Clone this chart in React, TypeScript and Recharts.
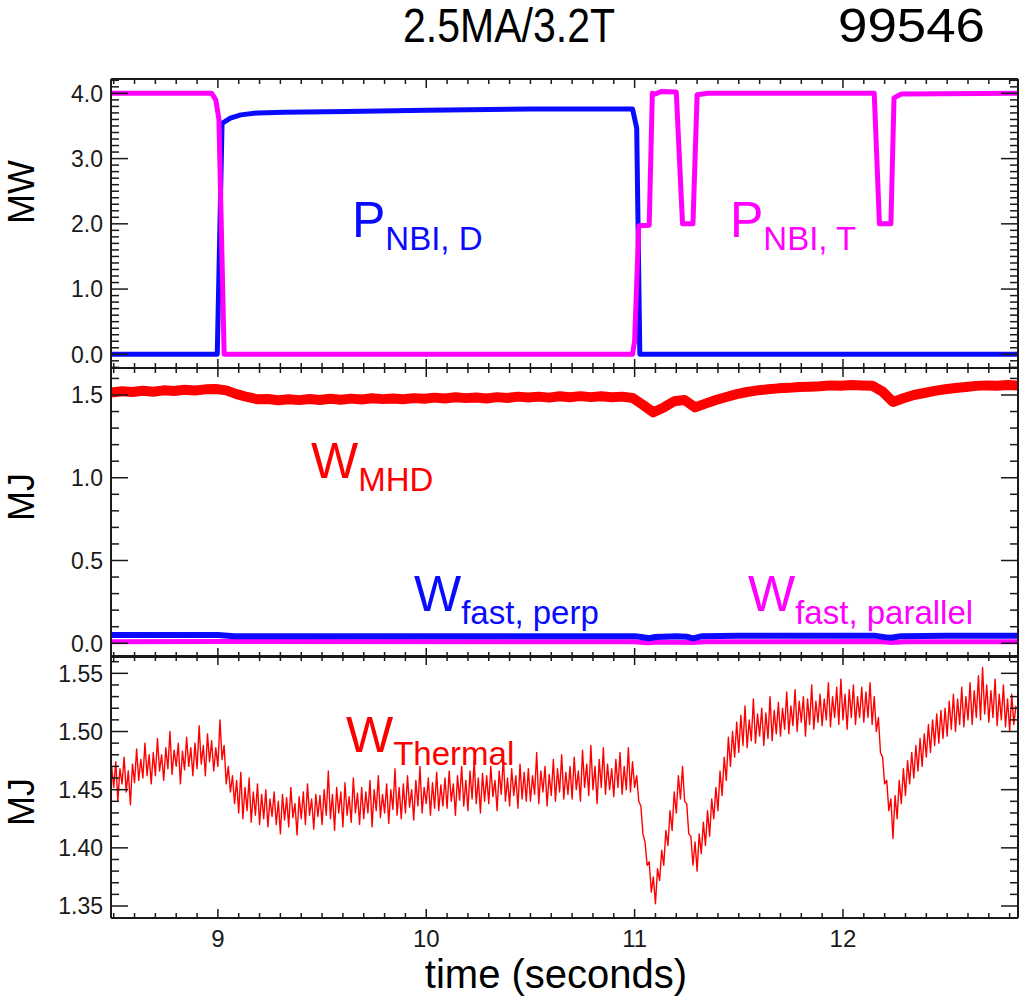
import React from "react";
import { LineChart, Line, XAxis, YAxis } from "recharts";

// shot 99546 — NBI power and stored energy traces
const W = 1025;
const PLOT_LEFT = 111;
const PLOT_RIGHT = 1018;
const FONT = "'Liberation Sans', Arial, Helvetica, sans-serif";
const BLUE = "#0a0aff";
const MAGENTA = "#ff00ff";
const RED = "#ff0000";
const INK = "#1a1a1a";

const T_MIN = 8.487;
const T_MAX = 12.84;
const timeMajor = [9, 10, 11, 12];

// NBI deuterium beam power (MW)
const pdT = [8.49, 8.997, 9.02, 9.06, 9.11, 9.19, 9.32, 9.62, 10.0, 10.5, 10.99, 11.01, 11.025, 12.84];
const pdV = [0, 0, 3.54, 3.62, 3.67, 3.7, 3.71, 3.72, 3.74, 3.76, 3.76, 3.47, 0, 0];

// NBI tritium beam power (MW)
const ptT = [8.49, 8.97, 8.99, 9.005, 9.03, 10.99, 11.0, 11.02, 11.07, 11.085, 11.1, 11.13, 11.2, 11.23, 11.28, 11.3, 11.35, 12.15, 12.175, 12.23, 12.245, 12.28, 12.84];
const ptV = [4.0, 4.0, 3.9, 3.6, 0, 0, 0.2, 1.97, 1.98, 4.0, 3.99, 4.03, 4.02, 2.0, 2.0, 3.98, 4.0, 4.0, 2.0, 2.0, 3.93, 3.99, 4.0];

// W_MHD (MJ), sampled every 50 ms from 8.49 s
const MHD_T0 = 8.49;
const MHD_DT = 0.05;
const wMhd = [
  1.515, 1.522, 1.518, 1.526, 1.52, 1.528, 1.524, 1.532, 1.527, 1.534,
  1.536, 1.528, 1.505, 1.488, 1.474, 1.476, 1.468, 1.474, 1.469, 1.476,
  1.47, 1.477, 1.471, 1.478, 1.473, 1.48, 1.475, 1.479, 1.474, 1.481,
  1.477, 1.484, 1.479, 1.486, 1.481, 1.485, 1.479, 1.487, 1.482, 1.49,
  1.485, 1.49, 1.484, 1.492, 1.486, 1.493, 1.487, 1.492, 1.486, 1.49,
  1.482, 1.44, 1.395, 1.425, 1.462, 1.47, 1.425, 1.448, 1.47, 1.488,
  1.505, 1.518, 1.528, 1.534, 1.54, 1.543, 1.548, 1.55, 1.553, 1.558,
  1.556, 1.56, 1.558, 1.556, 1.52, 1.458, 1.48, 1.5, 1.512, 1.525,
  1.535, 1.542, 1.548, 1.555, 1.558, 1.556, 1.56, 1.558,
];

// fast-ion stored energy (MJ)
const perpT = [8.49, 9.0, 9.08, 10.0, 11.0, 11.04, 11.07, 11.1, 11.2, 11.25, 11.28, 11.32, 11.5, 12.0, 12.15, 12.2, 12.23, 12.28, 12.5, 12.84];
const perpV = [0.05, 0.05, 0.043, 0.042, 0.043, 0.036, 0.03, 0.038, 0.042, 0.04, 0.03, 0.042, 0.045, 0.046, 0.046, 0.037, 0.033, 0.043, 0.045, 0.045];
const parT = [8.49, 9.0, 11.0, 11.06, 11.12, 11.28, 11.34, 12.18, 12.23, 12.3, 12.84];
const parV = [0.009, 0.01, 0.009, 0.003, 0.007, 0.005, 0.009, 0.01, 0.005, 0.009, 0.009];

// W_thermal (MJ), sampled every 10 ms from 8.49 s (one row = 0.2 s)
const TH_T0 = 8.49;
const TH_DT = 0.01;
const wThermal = [
  1.470, 1.452, 1.474, 1.440, 1.468, 1.455, 1.478, 1.448, 1.466, 1.437, 1.472, 1.456, 1.485, 1.458, 1.476, 1.460, 1.490, 1.462, 1.480, 1.455,
  1.482, 1.462, 1.494, 1.466, 1.480, 1.458, 1.486, 1.468, 1.500, 1.463, 1.484, 1.470, 1.490, 1.455, 1.483, 1.467, 1.495, 1.470, 1.486, 1.462,
  1.490, 1.468, 1.505, 1.472, 1.488, 1.462, 1.498, 1.474, 1.492, 1.466, 1.486, 1.470, 1.510, 1.476, 1.488, 1.455, 1.470, 1.448, 1.462, 1.438,
  1.458, 1.430, 1.465, 1.425, 1.452, 1.432, 1.460, 1.422, 1.448, 1.428, 1.455, 1.420, 1.446, 1.425, 1.450, 1.418, 1.442, 1.427, 1.448, 1.420,
  1.440, 1.412, 1.446, 1.424, 1.443, 1.418, 1.452, 1.426, 1.438, 1.411, 1.444, 1.425, 1.448, 1.420, 1.455, 1.428, 1.442, 1.416, 1.446, 1.427,
  1.445, 1.420, 1.450, 1.428, 1.466, 1.425, 1.446, 1.415, 1.452, 1.430, 1.448, 1.418, 1.456, 1.428, 1.444, 1.422, 1.460, 1.430, 1.447, 1.420,
  1.452, 1.425, 1.448, 1.430, 1.458, 1.418, 1.450, 1.432, 1.462, 1.426, 1.446, 1.430, 1.455, 1.421, 1.450, 1.433, 1.468, 1.428, 1.452, 1.425,
  1.455, 1.430, 1.462, 1.435, 1.450, 1.424, 1.458, 1.436, 1.470, 1.430, 1.452, 1.438, 1.460, 1.428, 1.456, 1.434, 1.465, 1.432, 1.454, 1.436,
  1.460, 1.434, 1.466, 1.440, 1.455, 1.428, 1.462, 1.441, 1.470, 1.436, 1.458, 1.432, 1.466, 1.442, 1.475, 1.438, 1.460, 1.430, 1.464, 1.440,
  1.462, 1.438, 1.470, 1.444, 1.458, 1.432, 1.466, 1.446, 1.478, 1.440, 1.460, 1.436, 1.468, 1.445, 1.462, 1.434, 1.472, 1.442, 1.465, 1.440,
  1.468, 1.440, 1.462, 1.446, 1.482, 1.438, 1.466, 1.448, 1.470, 1.436, 1.463, 1.445, 1.476, 1.440, 1.468, 1.448, 1.480, 1.442, 1.465, 1.446,
  1.470, 1.442, 1.478, 1.450, 1.466, 1.440, 1.484, 1.452, 1.472, 1.445, 1.488, 1.450, 1.470, 1.438, 1.476, 1.452, 1.486, 1.446, 1.472, 1.450,
  1.468, 1.444, 1.476, 1.452, 1.482, 1.446, 1.470, 1.450, 1.486, 1.448, 1.474, 1.452, 1.462, 1.440, 1.436, 1.412, 1.405, 1.385, 1.388, 1.362,
  1.375, 1.352, 1.382, 1.372, 1.398, 1.385, 1.415, 1.402, 1.432, 1.415, 1.448, 1.430, 1.462, 1.442, 1.470, 1.440, 1.438, 1.412, 1.410, 1.385,
  1.405, 1.380, 1.412, 1.395, 1.422, 1.402, 1.432, 1.410, 1.442, 1.425, 1.452, 1.432, 1.466, 1.445, 1.478, 1.458, 1.495, 1.470, 1.500, 1.478,
  1.508, 1.482, 1.514, 1.488, 1.522, 1.486, 1.510, 1.492, 1.528, 1.490, 1.515, 1.496, 1.520, 1.488, 1.516, 1.494, 1.530, 1.492, 1.518, 1.498,
  1.525, 1.496, 1.520, 1.502, 1.534, 1.498, 1.522, 1.505, 1.536, 1.500, 1.526, 1.508, 1.530, 1.496, 1.528, 1.506, 1.540, 1.502, 1.526, 1.508,
  1.532, 1.505, 1.528, 1.510, 1.542, 1.504, 1.530, 1.512, 1.538, 1.506, 1.545, 1.510, 1.532, 1.502, 1.536, 1.512, 1.540, 1.506, 1.530, 1.512,
  1.538, 1.508, 1.534, 1.512, 1.542, 1.506, 1.530, 1.500, 1.512, 1.482, 1.478, 1.455, 1.458, 1.432, 1.442, 1.408, 1.445, 1.425, 1.458, 1.438,
  1.468, 1.445, 1.475, 1.455, 1.482, 1.460, 1.488, 1.466, 1.494, 1.470, 1.498, 1.478, 1.506, 1.482, 1.510, 1.488, 1.515, 1.490, 1.518, 1.494,
  1.520, 1.496, 1.526, 1.502, 1.532, 1.500, 1.528, 1.506, 1.538, 1.504, 1.530, 1.510, 1.542, 1.506, 1.535, 1.512, 1.548, 1.510, 1.555, 1.515,
  1.540, 1.508, 1.535, 1.512, 1.545, 1.505, 1.532, 1.510, 1.540, 1.504, 1.528, 1.500, 1.532, 1.506, 1.522,
];

const pairs = (ts: number[], vs: number[]) => ts.map((t, i) => ({ t, v: vs[i] }));
const sampled = (t0: number, dt: number, vs: number[]) =>
  vs.map((v, i) => ({ t: Math.round((t0 + i * dt) * 1000) / 1000, v }));

// evenly spaced tick positions (minor + major)
const steps = (from: number, to: number, step: number) => {
  const out: number[] = [];
  const n = Math.round((to - from) / step);
  for (let i = 0; i <= n; i++) out.push(Math.round((from + i * step) * 1000) / 1000);
  return out;
};
const isIn = (list: number[], v: number) => list.some((m) => Math.abs(m - v) < 1e-6);

const timeTicks = steps(8.5, 12.8, 0.1);

const frame = { stroke: INK, strokeWidth: 2 };

const xTick = (side: "bottom" | "top", labels: boolean) => (props: any) => {
  const { x, y, payload } = props;
  const major = isIn(timeMajor, payload.value);
  const len = major ? 9 : 5;
  const dir = side === "bottom" ? -1 : 1;
  return (
    <g>
      <line x1={x} x2={x} y1={y} y2={y + dir * len} stroke={INK} strokeWidth={1.5} />
      {labels && major && (
        <text x={x} y={y + 29} textAnchor="middle" fontSize={24} fontFamily={FONT} fill={INK}>
          {payload.value}
        </text>
      )}
    </g>
  );
};

const yTick = (side: "left" | "right", majors: number[], digits: number) => (props: any) => {
  const { x, y, payload } = props;
  const major = isIn(majors, payload.value);
  const len = major ? 17 : 8;
  const dir = side === "left" ? 1 : -1;
  return (
    <g>
      <line x1={x} x2={x + dir * len} y1={y} y2={y} stroke={INK} strokeWidth={1.5} />
      {side === "left" && major && (
        <text x={x - 8} y={y} dy="0.36em" textAnchor="end" fontSize={23} fontFamily={FONT} fill={INK}>
          {Number(payload.value).toFixed(digits)}
        </text>
      )}
    </g>
  );
};

interface PanelProps {
  top: number;
  height: number;
  mt: number;
  mb: number;
  yDomain: [number, number];
  yTicks: number[];
  yMajor: number[];
  digits: number;
  showTime?: boolean;
  children: React.ReactNode;
}

// axes are 1px thick boxes, so the margins are trimmed by one pixel on each side
const Panel = ({ top, height, mt, mb, yDomain, yTicks, yMajor, digits, showTime, children }: PanelProps) => (
  <div style={{ position: "absolute", left: 0, top, width: W, height }}>
    <LineChart width={W} height={height} margin={{ top: mt - 1, bottom: mb - 1, left: PLOT_LEFT - 1, right: W - PLOT_RIGHT - 1 }}>
      <XAxis xAxisId="b" orientation="bottom" type="number" dataKey="t" domain={[T_MIN, T_MAX]} allowDataOverflow ticks={timeTicks}
        interval={0} height={1} tickSize={0} tickMargin={0} tickLine={false} axisLine={frame} tick={xTick("bottom", !!showTime)} />
      <XAxis xAxisId="t" orientation="top" type="number" dataKey="t" domain={[T_MIN, T_MAX]} allowDataOverflow ticks={timeTicks}
        interval={0} height={1} tickSize={0} tickMargin={0} tickLine={false} axisLine={frame} tick={xTick("top", false)} />
      <YAxis yAxisId="l" orientation="left" type="number" domain={yDomain} allowDataOverflow ticks={yTicks}
        interval={0} width={1} tickSize={0} tickMargin={0} tickLine={false} axisLine={frame} tick={yTick("left", yMajor, digits)} />
      <YAxis yAxisId="r" orientation="right" type="number" domain={yDomain} allowDataOverflow ticks={yTicks}
        interval={0} width={1} tickSize={0} tickMargin={0} tickLine={false} axisLine={frame} tick={yTick("right", yMajor, digits)} />
      {children}
    </LineChart>
  </div>
);

const trace = (key: string, data: { t: number; v: number }[], color: string, width: number) => (
  <Line key={key} xAxisId="b" yAxisId="l" data={data} dataKey="v" type="linear" stroke={color}
    strokeWidth={width} dot={false} activeDot={false} isAnimationActive={false} strokeLinejoin="round" />
);

const Sub = ({ x, y, color, main, sub }: { x: number; y: number; color: string; main: string; sub: string }) => (
  <text x={x} y={y} fill={color} fontSize={50} fontFamily={FONT}>
    {main}
    <tspan fontSize={33} dy={13}>{sub}</tspan>
  </text>
);

export default function App() {
  return (
    <div style={{ position: "absolute", left: 0, top: 0, width: W, height: 998, background: "#fff", overflow: "hidden" }}>
      <Panel top={0} height={400} mt={79} mb={32} yDomain={[-0.21, 4.22]} yTicks={steps(-0.2, 4.2, 0.1)}
        yMajor={[0, 1, 2, 3, 4]} digits={1}>
        {trace("pnbid", pairs(pdT, pdV), BLUE, 5)}
        {trace("pnbit", pairs(ptT, ptV), MAGENTA, 5)}
      </Panel>
      <Panel top={340} height={340} mt={28} mb={23} yDomain={[-0.083, 1.663]} yTicks={steps(0, 1.6, 0.1)}
        yMajor={[0, 0.5, 1, 1.5]} digits={1}>
        {trace("wmhd", sampled(MHD_T0, MHD_DT, wMhd), RED, 10)}
        {trace("wpar", pairs(parT, parV), MAGENTA, 5)}
        {trace("wperp", pairs(perpT, perpV), BLUE, 6)}
      </Panel>
      <Panel top={630} height={368} mt={26} mb={80} yDomain={[1.3397, 1.5649]} yTicks={steps(1.35, 1.56, 0.01)}
        yMajor={[1.35, 1.4, 1.45, 1.5, 1.55]} digits={2} showTime>
        {trace("wth", sampled(TH_T0, TH_DT, wThermal), RED, 1.4)}
      </Panel>

      <svg width={W} height={998} style={{ position: "absolute", left: 0, top: 0, pointerEvents: "none" }}>
        <g fontFamily={FONT} fill="#000">
          <text x={403} y={42} fontSize={48} textLength={212} lengthAdjust="spacingAndGlyphs">2.5MA/3.2T</text>
          <text x={838} y={42} fontSize={48} textLength={147} lengthAdjust="spacingAndGlyphs">99546</text>
          <text x={556} y={988} fontSize={40} textAnchor="middle">time (seconds)</text>
          <text transform="translate(34,192) rotate(-90)" fontSize={36} textAnchor="middle">MW</text>
          <text transform="translate(34,497) rotate(-90)" fontSize={36} textAnchor="middle">MJ</text>
          <text transform="translate(34,802) rotate(-90)" fontSize={36} textAnchor="middle">MJ</text>
        </g>
        <Sub x={352} y={237} color={BLUE} main="P" sub="NBI, D" />
        <Sub x={730} y={237} color={MAGENTA} main="P" sub="NBI, T" />
        <Sub x={311} y={478} color={RED} main="W" sub="MHD" />
        <Sub x={414} y={611} color={BLUE} main="W" sub="fast, perp" />
        <Sub x={748} y={611} color={MAGENTA} main="W" sub="fast, parallel" />
        <Sub x={346} y={752} color={RED} main="W" sub="Thermal" />
      </svg>
    </div>
  );
}
